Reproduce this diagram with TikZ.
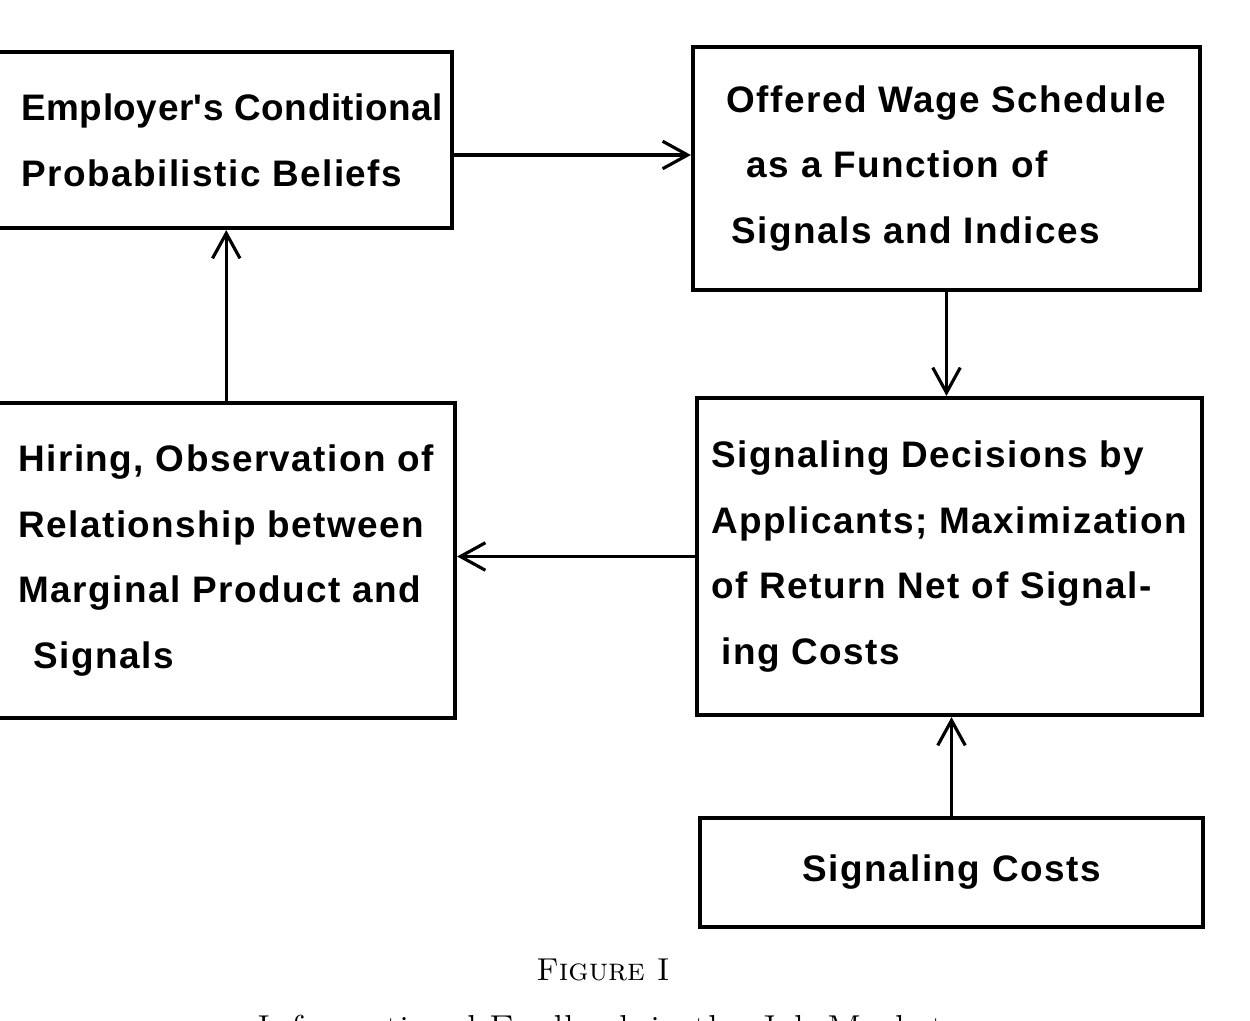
\documentclass[tikz,border=0pt]{standalone}
\usepackage{fontspec}
\newfontfamily\letterfont[LetterSpace=4]{Liberation Sans}
\usetikzlibrary{arrows.meta}
\begin{document}
\begin{tikzpicture}[
  box/.style={draw,line width=2.4pt,align=left,inner sep=0pt,
    font=\letterfont\bfseries\fontsize{21pt}{37.5pt}\selectfont},
  arr/.style={line width=1.8pt,-{Straight Barb[length=0.5cm,width=0.55cm,line width=1.8pt]}}]
\clip (0,0) rectangle (25,20.4);
%\draw[step=1cm,gray,very thin] (0,0) grid (25,20); 
\node[box,minimum width=9.09cm,minimum height=3.52cm] (belief) at (4.495,17.6)
  {\addfontfeatures{LetterSpace=1.5}\hspace*{0.3cm}Employer's Conditional\\\hspace*{0.3cm}Probabilistic Beliefs};
\node[box,minimum width=10.14cm,minimum height=4.86cm] (wage) at (18.93,17.03)
  {Offered Wage Schedule\\\hspace*{0.4cm}as a Function of\\\hspace*{0.1cm}Signals and Indices};
\node[box,minimum width=10.1cm,minimum height=6.34cm] (decide) at (18.99,9.27)
  {Signaling Decisions by\\Applicants; Maximization\\of Return Net of Signal-\\\hspace*{0.2cm}ing Costs};
\node[box,minimum width=9.15cm,minimum height=6.3cm] (hiring) at (4.525,9.19)
  {Hiring, Observation of\\Relationship between\\Marginal Product and\\\hspace*{0.3cm}Signals};
\node[box,minimum width=10.06cm,minimum height=2.18cm] (cost) at (19.03,2.95)
  {Signaling Costs};

\coordinate (beliefout) at ([yshift=-0.3cm]belief.east);
\draw[arr] (beliefout) -- (beliefout -| wage.west);
\draw[arr] (wage.south) -- (wage.south |- decide.north);
\draw[arr] (decide.west) -- (decide.west -| hiring.east);
\draw[arr] (hiring.north) -- (hiring.north |- belief.south);
\draw[arr] (cost.north) -- (cost.north |- decide.south);

\node[anchor=base,font=\fontsize{18pt}{20pt}\selectfont] (fig) at (12.06,0.8) {\textsc{Figure I}};
\node[anchor=base,font=\fontsize{23pt}{26pt}\selectfont] (title) at (12.02,-0.46)
  {Informational Feedback in the Job Market};
\end{tikzpicture}
\end{document}
